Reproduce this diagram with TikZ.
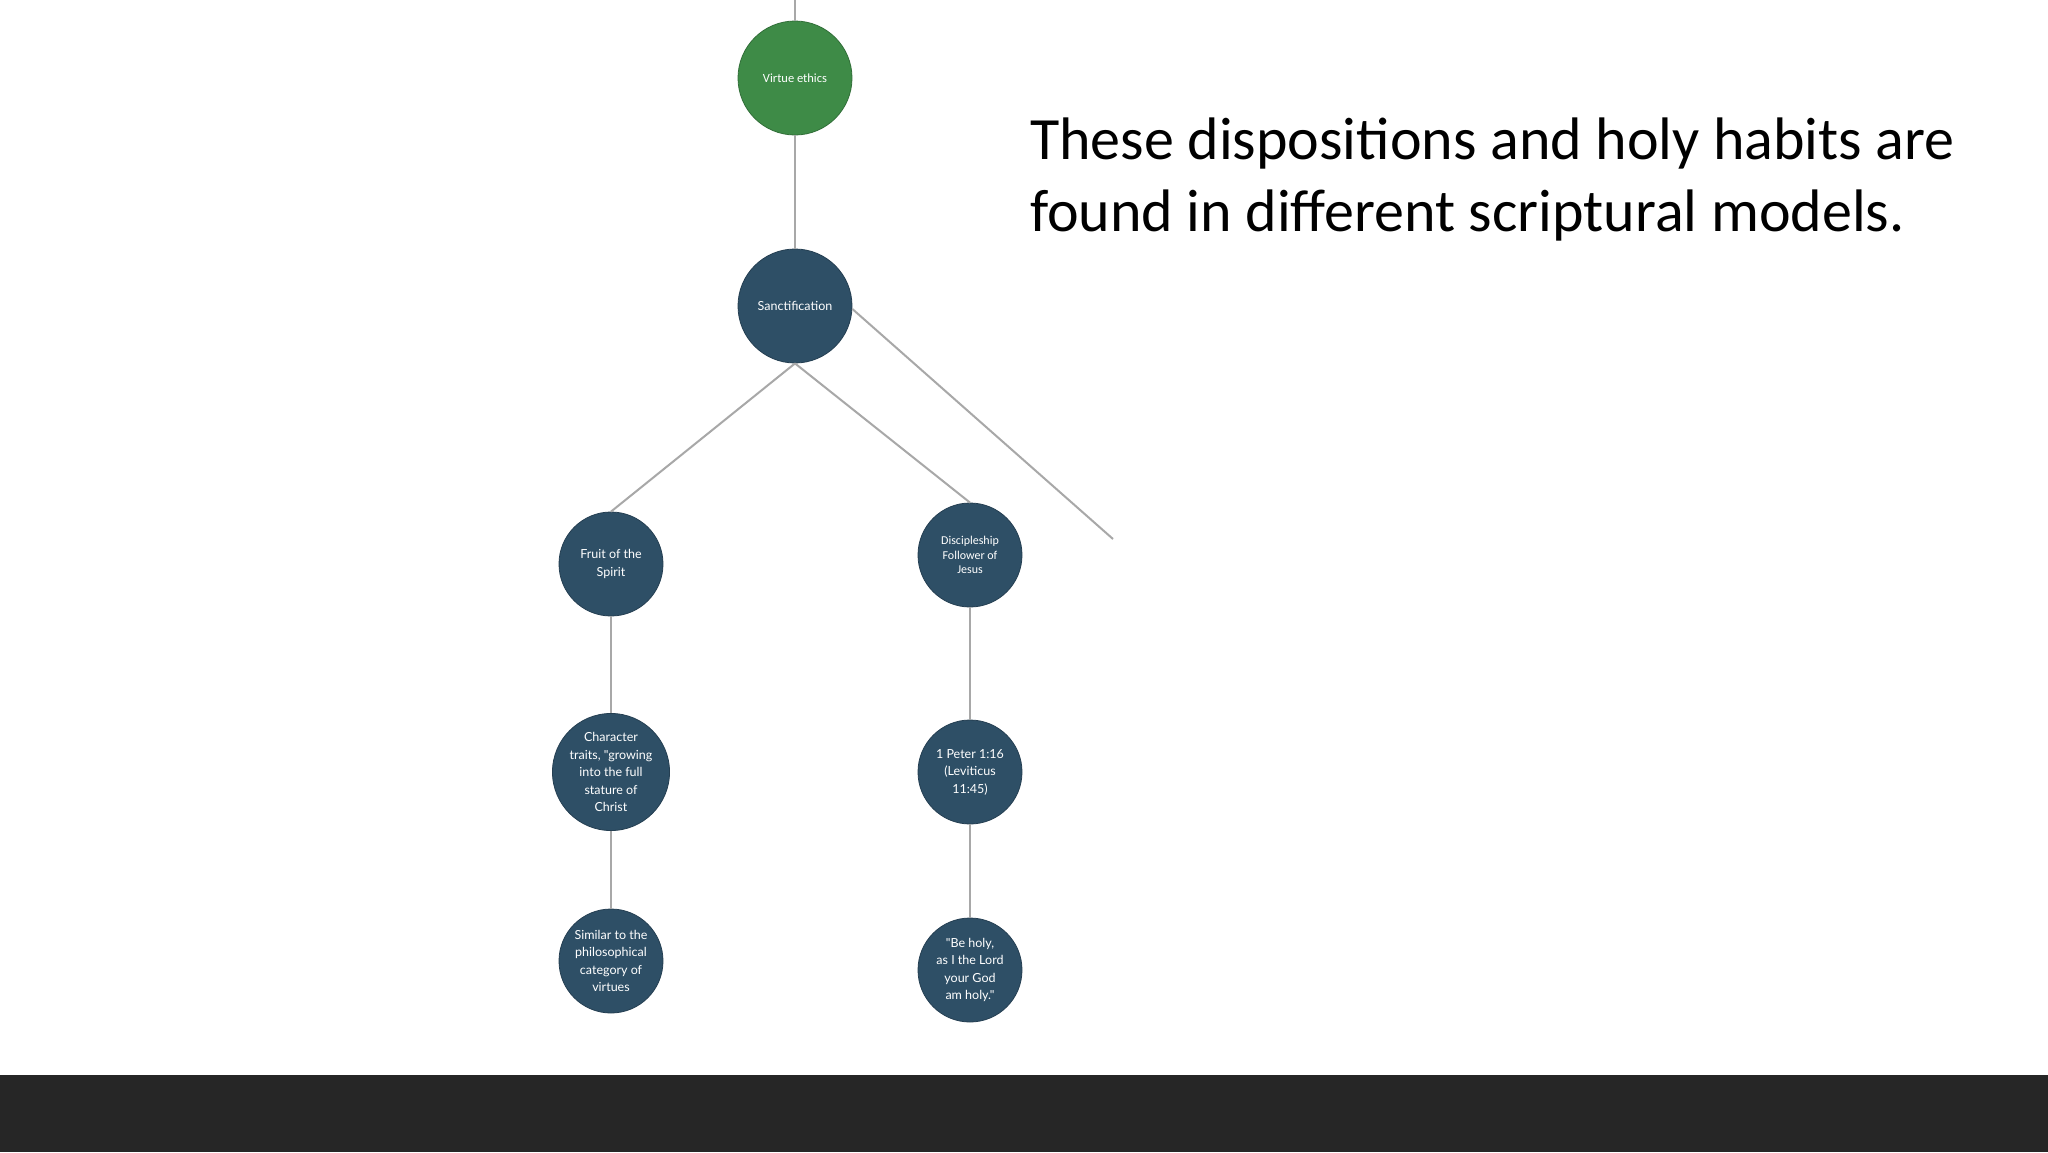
\documentclass[tikz,border=0pt]{standalone}
\usepackage{fontspec}
\setmainfont{Carlito}
\newfontfamily\latofont{Lato}
\definecolor{navy}{HTML}{2E4F66}
\definecolor{vgreen}{HTML}{3E8B47}
\definecolor{barc}{HTML}{262626}
\definecolor{linec}{HTML}{A8A8A8}
\begin{document}
\begin{tikzpicture}[x=1pt,y=-1pt,
  circ/.style={circle,fill=navy,draw=navy!80!black,line width=0.8pt,minimum size=#1,inner sep=1pt,text=white,align=center,font=\latofont\fontsize{12.5}{17.5}\selectfont},
  conn/.style={draw=linec,line width=2pt}]
\useasboundingbox (0,0) rectangle (2048,1152);
\fill[white] (0,0) rectangle (2048,1152);
\fill[barc] (0,1075) rectangle (2048,1152);
\node[circ=114pt,fill=vgreen,draw=vgreen!80!black,font=\rmfamily\fontsize{12.5}{14}\selectfont] (ve) at (795,78) {Virtue ethics};
\node[circ=114pt] (sa) at (795,306) {Sanctification};
\node[circ=104pt] (fr) at (611,564) {Fruit of the\\Spirit};
\node[circ=104pt,font=\rmfamily\fontsize{12}{14.5}\selectfont] (di) at (970,555) {Discipleship\\Follower of\\Jesus};
\node[circ=104pt] (ch) at (611,772) {Character\\traits, "growing\\into the full\\stature of\\Christ};
\node[circ=104pt] (pe) at (970,772) {1 Peter 1:16\\(Leviticus\\11:45)};
\node[circ=104pt] (si) at (611,961) {Similar to the\\philosophical\\category of\\virtues};
\node[circ=104pt] (bh) at (970,970) {"Be holy,\\as I the Lord\\your God\\am holy."};
\coordinate (topend) at (795,0);
\coordinate (farend) at (1113,539);
\draw[conn] (topend) -- (ve.north);
\draw[conn] (ve.south) -- (sa.north);
\draw[conn] (sa.south) -- (fr.north);
\draw[conn] (sa.south) -- (di.north);
\draw[conn] (sa.east) ++(0,3) -- (farend);
\draw[conn] (fr.south) -- (ch.north);
\draw[conn] (ch.south) -- (si.north);
\draw[conn] (di.south) -- (pe.north);
\draw[conn] (pe.south) -- (bh.north);
\node[anchor=north west,align=left,font=\fontsize{60}{72}\selectfont,inner sep=0pt] (txt) at (1030,118) {These dispositions and holy habits are\\found in different scriptural models.};
\end{tikzpicture}
\end{document}
